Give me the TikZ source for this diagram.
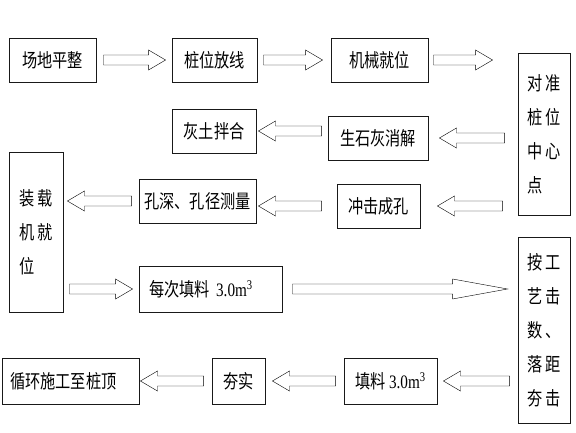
\documentclass[tikz,border=0pt]{standalone}
\usepackage{fontspec}
\newfontfamily\cjk[FakeStretch=0.8]{Noto Sans CJK SC}
\newfontfamily\lat[FakeStretch=0.8]{Liberation Serif}
\usetikzlibrary{calc}

\begin{document}
\begin{tikzpicture}[x=1pt, y=-1pt,
	box/.style={draw=black!90, line width=0.9pt, inner sep=0pt, minimum height=44, font=\cjk\fontsize{19}{34}\selectfont},
	hollow/.style={draw=black!90, line width=1pt, to path={let \p1=(\tikztostart), \p2=(\tikztotarget), \p3=($(\p2)!#1!(\x1,\y2)$) in (\x1,\y1+5pt) -- (\x3,\y1+5pt) -- (\x3,\y1+10pt) -- (\x2,\y1) -- (\x3,\y1-10pt) -- (\x3,\y1-5pt) -- (\x1,\y1-5pt) -- cycle}},
	hollow/.default=17pt]
	\useasboundingbox (0,0) rectangle (576,432);
	% top row
	\node[box, minimum width=87] (s1) at (52.5,60) {场地平整};
	\node[box, minimum width=85] (s2) at (214.5,60) {桩位放线};
	\node[box, minimum width=97] (s3) at (379.5,60) {机械就位};
	\node[box, minimum width=52, minimum height=162, align=left] (s4) at (544,134) {对\,准\\桩\,位\\中\,心\\点};
	% second and third rows
	\node[box, minimum width=100] (s5) at (378,138) {生石灰消解};
	\node[box, minimum width=84] (s6) at (214,131) {灰土拌合};
	\node[box, minimum width=83] (s7) at (378.5,206) {冲击成孔};
	\node[box, minimum width=117] (s8) at (197.5,201) {孔深、孔径测量};
	\node[box, minimum width=54, minimum height=160, align=left] (s9) at (36,232) {装\,载\\机\,就\\位};
	% filling loop
	\node[box, minimum width=143, minimum height=46, text width=123, inner xsep=10pt, align=left] (s10) at (210.5,289) {每次填料 {\lat 3.0m\textsuperscript{3}}};
	\node[box, minimum width=52, minimum height=186, align=left] (s11) at (544,330) {按\,工\\艺\,击\\数\,、\\落\,距\\夯\,击};
	\node[box, minimum width=93, minimum height=46] (s12) at (390.5,381) {填料 {\lat 3.0m\textsuperscript{3}}};
	\node[box, minimum width=53, minimum height=46] (s13) at (238.5,381) {夯实};
	\node[box, minimum width=137, minimum height=46, text width=121, inner xsep=8pt, align=left] (s14) at (70.5,381) {循环施工至桩顶};
	% hollow arrows
	\draw ($(s1.east)+(7,0)$) to[hollow] ($(s2.west)+(-6,0)$);
	\draw ($(s2.east)+(6,0)$) to[hollow] ($(s3.west)+(-8,0)$);
	\draw ($(s3.east)+(5,0)$) to[hollow] ($(s3.east -| s4.west)+(-25,0)$);
	\draw ($(s5.east -| s4.west)+(-13,0)$) to[hollow] ($(s5.east)+(11,0)$);
	\draw ($(s5.west |- s6)+(-6,0)$) to[hollow] ($(s6.east)+(2,0)$);
	\draw ($(s7.east -| s4.west)+(-15,0)$) to[hollow] ($(s7.east)+(17,0)$);
	\draw ($(s7.west)+(-15,0)$) to[hollow] ($(s8.east |- s7)+(2,0)$);
	\draw ($(s8.west)+(-7,0)$) to[hollow] ($(s9.east |- s8)+(4,0)$);
	\draw ($(s9.east |- s10)+(6,0)$) to[hollow] ($(s10.west)+(-6,0)$);
	\draw ($(s10.east)+(10,0)$) to[hollow=55pt] ($(s10.east -| s11.west)+(-10,0)$);
	\draw ($(s12.east -| s11.west)+(-8,0)$) to[hollow] ($(s12.east)+(6,0)$);
	\draw ($(s12.west)+(-8,0)$) to[hollow] ($(s13.east)+(7,0)$);
	\draw ($(s13.west)+(-8,0)$) to[hollow] ($(s14.east)+(1,0)$);
\end{tikzpicture}
\end{document}
